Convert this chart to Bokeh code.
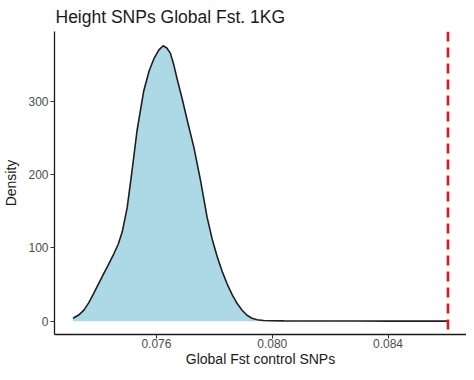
from bokeh.plotting import figure
from bokeh.models import Span, Range1d, FixedTicker, NumeralTickFormatter
from bokeh.embed import file_html
from bokeh.resources import INLINE

# Density curve of global Fst for control SNPs
fst = [0.07312, 0.07330, 0.07349, 0.07366, 0.07383, 0.07400, 0.07418, 0.07436,
       0.07453, 0.07468, 0.07482, 0.07499, 0.07516, 0.07533, 0.07556, 0.07575,
       0.07591, 0.07608, 0.07623, 0.07636, 0.07648, 0.07660, 0.07672, 0.07690,
       0.07706, 0.07729, 0.07752, 0.07775, 0.07792, 0.07810, 0.07827, 0.07844,
       0.07862, 0.07879, 0.07896, 0.07913, 0.07930, 0.07948, 0.07970, 0.08000,
       0.08040, 0.08100, 0.08200, 0.08300, 0.08400, 0.08500, 0.08607]
density = [4.0, 8.0, 14.7, 25.0, 37.5, 51.0, 65.0, 78.5,
           92.0, 105.0, 122.0, 155.0, 206.0, 260.0, 314.0, 342.0,
           358.0, 370.0, 376.0, 373.0, 366.0, 350.0, 330.0, 302.0,
           275.0, 238.0, 193.0, 142.0, 113.0, 88.0, 68.0, 51.0,
           36.0, 24.0, 15.0, 8.0, 4.0, 2.0, 1.0, 0.6,
           0.4, 0.3, 0.2, 0.15, 0.1, 0.05, 0.03]
observed_fst = 0.08607
x_ticks = [0.076, 0.080, 0.084]
y_ticks = [0, 100, 200, 300]

p = figure(width=466, height=372, output_backend="svg", toolbar_location=None,
           x_range=Range1d(0.07248, 0.08671), y_range=Range1d(-18.2, 395.5),
           title="Height SNPs Global Fst. 1KG",
           min_border_left=46, min_border_right=0, min_border_bottom=38,
           min_border_top=0)

p.title.text_font = "Liberation Sans"
p.title.text_font_size = "17.5px"
p.title.text_font_style = "normal"
p.title.text_color = "#1a1a1a"
p.title.align = "left"
p.title.offset = 1
p.title.standoff = 9

p.varea(x=fst, y1=0, y2=density, fill_color="#ADD8E6", fill_alpha=1.0)
p.line(x=fst, y=density, line_color="#1f1f1f", line_width=1.6)

vline = Span(location=observed_fst, dimension="height", line_color="#E8141B",
             line_width=2.6, line_dash="10 6")
p.add_layout(vline)

p.outline_line_color = None
p.xgrid.visible = False
p.ygrid.visible = False

p.xaxis.ticker = FixedTicker(ticks=x_ticks)
p.yaxis.ticker = FixedTicker(ticks=y_ticks)
p.xaxis.formatter = NumeralTickFormatter(format="0.000")

for ax in (p.xaxis, p.yaxis):
    ax.axis_line_color = "#1a1a1a"
    ax.axis_line_width = 1.3
    ax.major_tick_line_color = "#333333"
    ax.major_tick_line_width = 1.1
    ax.major_tick_out = 4
    ax.major_tick_in = 0
    ax.minor_tick_line_color = None
    ax.major_label_text_font = "Liberation Sans"
    ax.major_label_text_font_size = "12px"
    ax.major_label_text_color = "#4d4d4d"
    ax.axis_label_text_font = "Liberation Sans"
    ax.axis_label_text_font_size = "14px"
    ax.axis_label_text_font_style = "normal"
    ax.axis_label_text_color = "#1a1a1a"

p.xaxis.major_label_standoff = 0
p.yaxis.major_label_standoff = 2
p.xaxis.axis_label = "Global Fst control SNPs"
p.yaxis.axis_label = "Density"
p.xaxis.axis_label_standoff = 0
p.yaxis.axis_label_standoff = 6

open("out.html", "w").write(file_html(p, INLINE))
